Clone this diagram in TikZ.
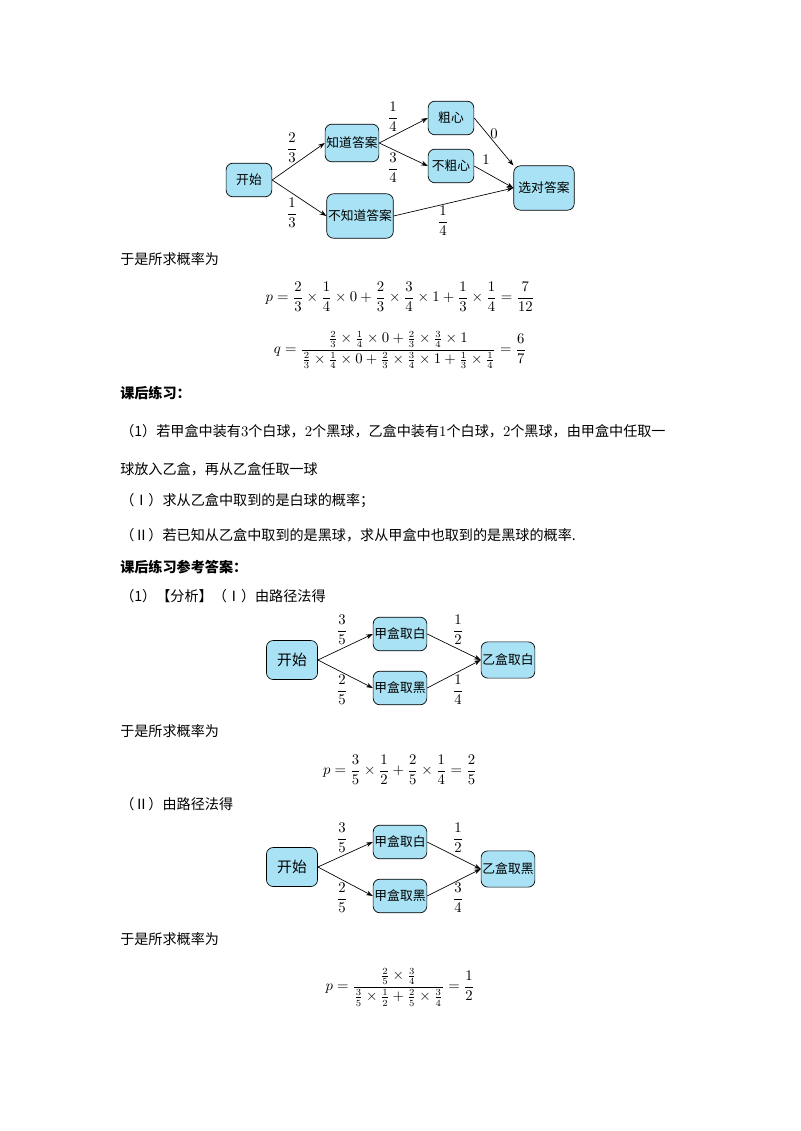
\documentclass[tikz,border=0pt]{standalone}
\usepackage{fontspec}
\usepackage{amsmath}
\newfontfamily\cjk{Noto Sans CJK SC}
\usetikzlibrary{arrows.meta}
\begin{document}
\begin{tikzpicture}[x=0.744pt,y=-0.744pt,
  box/.style={draw,rounded corners=5pt,fill=boxc,font=\cjk\fontsize{9.5}{11}\selectfont,inner sep=1pt,line width=0.5pt},
  arr/.style={-{Stealth[length=5pt,width=3.5pt]},line width=0.5pt},
  lab/.style={font=\fontsize{10.5}{12}\selectfont,inner sep=0pt},
  txt/.style={anchor=west,font=\cjk\fontsize{10.5}{12}\selectfont,inner sep=0pt},
  eq/.style={font=\fontsize{10.5}{12}\selectfont,inner sep=0pt}]
\definecolor{boxc}{HTML}{A8E2F4}
\useasboundingbox (0,0) rectangle (800,1131);
% diagram 1
\node[box,minimum width=34pt,minimum height=25pt] (s) at (249,180) {开始};
\node[box,minimum width=39pt,minimum height=28pt] (k) at (352,143) {知道答案};
\node[box,minimum width=49pt,minimum height=33pt] (nk) at (360,216) {不知道答案};
\node[box,minimum width=34pt,minimum height=25pt] (c) at (451,118) {粗心};
\node[box,minimum width=34pt,minimum height=25pt] (nc) at (451,166) {不粗心};
\node[box,minimum width=45pt,minimum height=33pt] (r) at (544,188) {选对答案};
\draw[arr] (s.east) -- (k.west);
\draw[arr] (s.east) -- (nk.west);
\draw[arr] (k.east) -- (c.west);
\draw[arr] (k.east) -- (nc.west);
\draw[arr] (c.east) -- (r.north west);
\draw[arr] (nc.east) -- (r.west);
\draw[arr] (nk.east) -- (r.west);
\node[lab] (l1) at (292,148) {$\dfrac{2}{3}$};
\node[lab] (l2) at (292,213) {$\dfrac{1}{3}$};
\node[lab] (l3) at (393,117) {$\dfrac{1}{4}$};
\node[lab] (l4) at (393,168) {$\dfrac{3}{4}$};
\node[lab] (l5) at (494,134) {$0$};
\node[lab] (l6) at (486,160) {$1$};
\node[lab] (l7) at (443,221) {$\dfrac{1}{4}$};
\node[txt] (t1) at (120,259) {于是所求概率为};
\node[eq] (e1) at (400,297) {$p=\dfrac{2}{3}\times\dfrac{1}{4}\times0+\dfrac{2}{3}\times\dfrac{3}{4}\times1+\dfrac{1}{3}\times\dfrac{1}{4}=\dfrac{7}{12}$};
\node[eq] (e2) at (400,350) {$q=\dfrac{\tfrac{2}{3}\times\tfrac{1}{4}\times0+\tfrac{2}{3}\times\tfrac{3}{4}\times1}{\tfrac{2}{3}\times\tfrac{1}{4}\times0+\tfrac{2}{3}\times\tfrac{3}{4}\times1+\tfrac{1}{3}\times\tfrac{1}{4}}=\dfrac{6}{7}$};
\node[txt,font=\cjk\bfseries\fontsize{10.5}{12}\selectfont] (t2) at (120,393) {课后练习：};
\node[txt] (t3) at (120,431) {（1）若甲盒中装有$3$个白球，$2$个黑球，乙盒中装有$1$个白球，$2$个黑球，由甲盒中任取一};
\node[txt] (t4) at (120,469) {球放入乙盒，再从乙盒任取一球};
\node[txt] (t5) at (120,501) {（Ⅰ）求从乙盒中取到的是白球的概率；};
\node[txt] (t6) at (120,535) {（Ⅱ）若已知从乙盒中取到的是黑球，求从甲盒中也取到的是黑球的概率.};
\node[txt,font=\cjk\bfseries\fontsize{10.5}{12}\selectfont] (t7) at (120,567) {课后练习参考答案：};
\node[txt] (t8) at (120,596) {（1）【分析】（Ⅰ）由路径法得};
% diagram 2
\node[box,font=\cjk\fontsize{11}{12}\selectfont,minimum width=38pt,minimum height=29pt] (s2) at (292,660) {开始};
\node[box,minimum width=38pt,minimum height=25pt] (w2) at (400,634) {甲盒取白};
\node[box,minimum width=38pt,minimum height=25pt] (b2) at (400,688) {甲盒取黑};
\node[box,minimum width=38pt,minimum height=27pt] (y2) at (508,660) {乙盒取白};
\draw[arr] (s2.east) -- (w2.west);
\draw[arr] (s2.east) -- (b2.west);
\draw[arr] (w2.east) -- (y2.west);
\draw[arr] (b2.east) -- (y2.west);
\node[lab] (m1) at (342,630) {$\dfrac{3}{5}$};
\node[lab] (m2) at (342,690) {$\dfrac{2}{5}$};
\node[lab] (m3) at (458,630) {$\dfrac{1}{2}$};
\node[lab] (m4) at (458,690) {$\dfrac{1}{4}$};
\node[txt] (t9) at (120,731) {于是所求概率为};
\node[eq] (e3) at (400,770) {$p=\dfrac{3}{5}\times\dfrac{1}{2}+\dfrac{2}{5}\times\dfrac{1}{4}=\dfrac{2}{5}$};
\node[txt] (t10) at (120,804) {（Ⅱ）由路径法得};
% diagram 3
\node[box,font=\cjk\fontsize{11}{12}\selectfont,minimum width=38pt,minimum height=29pt] (s3) at (292,867) {开始};
\node[box,minimum width=38pt,minimum height=25pt] (w3) at (400,842) {甲盒取白};
\node[box,minimum width=38pt,minimum height=25pt] (b3) at (400,896) {甲盒取黑};
\node[box,minimum width=38pt,minimum height=27pt] (y3) at (508,869) {乙盒取黑};
\draw[arr] (s3.east) -- (w3.west);
\draw[arr] (s3.east) -- (b3.west);
\draw[arr] (w3.east) -- (y3.west);
\draw[arr] (b3.east) -- (y3.west);
\node[lab] (n1) at (342,838) {$\dfrac{3}{5}$};
\node[lab] (n2) at (342,898) {$\dfrac{2}{5}$};
\node[lab] (n3) at (458,838) {$\dfrac{1}{2}$};
\node[lab] (n4) at (458,898) {$\dfrac{3}{4}$};
\node[txt] (t11) at (120,939) {于是所求概率为};
\node[eq] (e4) at (400,987) {$p=\dfrac{\tfrac{2}{5}\times\tfrac{3}{4}}{\tfrac{3}{5}\times\tfrac{1}{2}+\tfrac{2}{5}\times\tfrac{3}{4}}=\dfrac{1}{2}$};
\end{tikzpicture}
\end{document}
